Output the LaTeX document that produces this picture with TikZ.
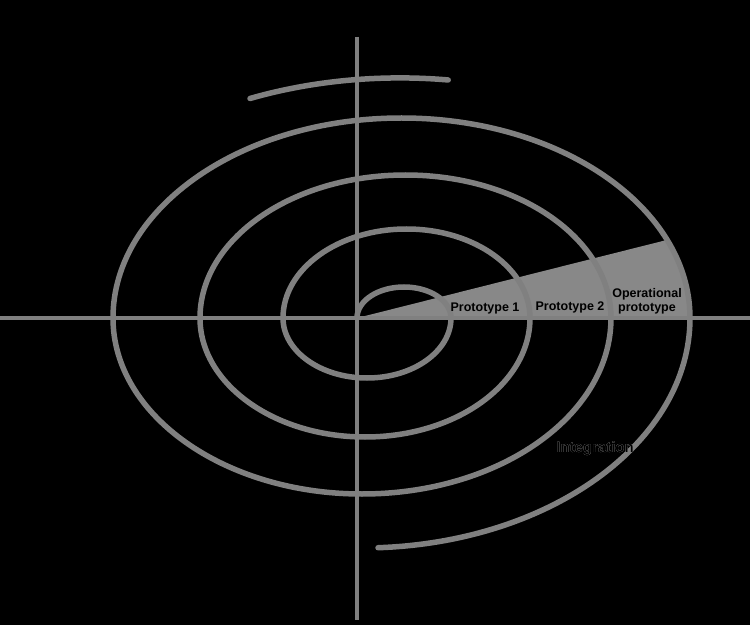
\documentclass[tikz,border=0pt]{standalone}
\usepackage{fontspec}
\setmainfont{Liberation Sans}
\usepackage[outline]{contour}
\contourlength{0.9pt}
\definecolor{spiralgray}{RGB}{128,128,128}
\definecolor{wedgegray}{RGB}{136,136,136}
\definecolor{halogray}{RGB}{225,225,225}
\tikzset{
  axisline/.style={draw=spiralgray,line width=4.5pt},
  spiralline/.style={draw=spiralgray,line width=5.5pt,line cap=round},
  phaselabel/.style={font=\bfseries\fontsize{12.5}{14}\selectfont,text=black,align=center,inner sep=0pt},
}
\begin{document}
\begin{tikzpicture}[x=1pt,y=1pt]
\useasboundingbox (0,0) rectangle (750,625);
\fill[black] (0,0) rectangle (750,625);
% prototype wedge
\fill[wedgegray] (357,307) -- (667.1,385.1)
  arc[start angle=23,end angle=0,x radius=288.5,y radius=200] -- cycle;
% axes
\coordinate (xl) at (0,307);
\coordinate (xr) at (750,307);
\coordinate (yt) at (357,588);
\coordinate (yb) at (357,5);
\draw[axisline] (xl) -- (xr);
\draw[axisline] (yt) -- (yb);
% spiral
\coordinate (c) at (357,307);
\draw[spiralline] (c)
  arc[start angle=180,end angle=0,x radius=47,y radius=31]
  arc[start angle=0,end angle=-180,x radius=84,y radius=60]
  arc[start angle=180,end angle=0,x radius=123.5,y radius=89]
  arc[start angle=0,end angle=-180,x radius=165,y radius=119]
  arc[start angle=180,end angle=0,x radius=205.5,y radius=143]
  arc[start angle=0,end angle=-180,x radius=249,y radius=176]
  arc[start angle=180,end angle=0,x radius=288.5,y radius=200]
  arc[start angle=0,end angle=-87.2,x radius=328,y radius=230];
% outer partial arc
\coordinate (o1) at (250,526.5);
\draw[spiralline] (o1) arc[start angle=113.9,end angle=82.5,x radius=370,y radius=240];
% labels
\node[phaselabel] (p1) at (485,317) {Prototype 1};
\node[phaselabel] (p2) at (570,318) {Prototype 2};
\node[phaselabel] (op) at (647,324) {Operational\\prototype};
\node[font=\bfseries\fontsize{15}{16}\selectfont,inner sep=0pt] (integ) at (595,176) {\contour{halogray}{\textcolor{black}{Integration}}};
\end{tikzpicture}
\end{document}
